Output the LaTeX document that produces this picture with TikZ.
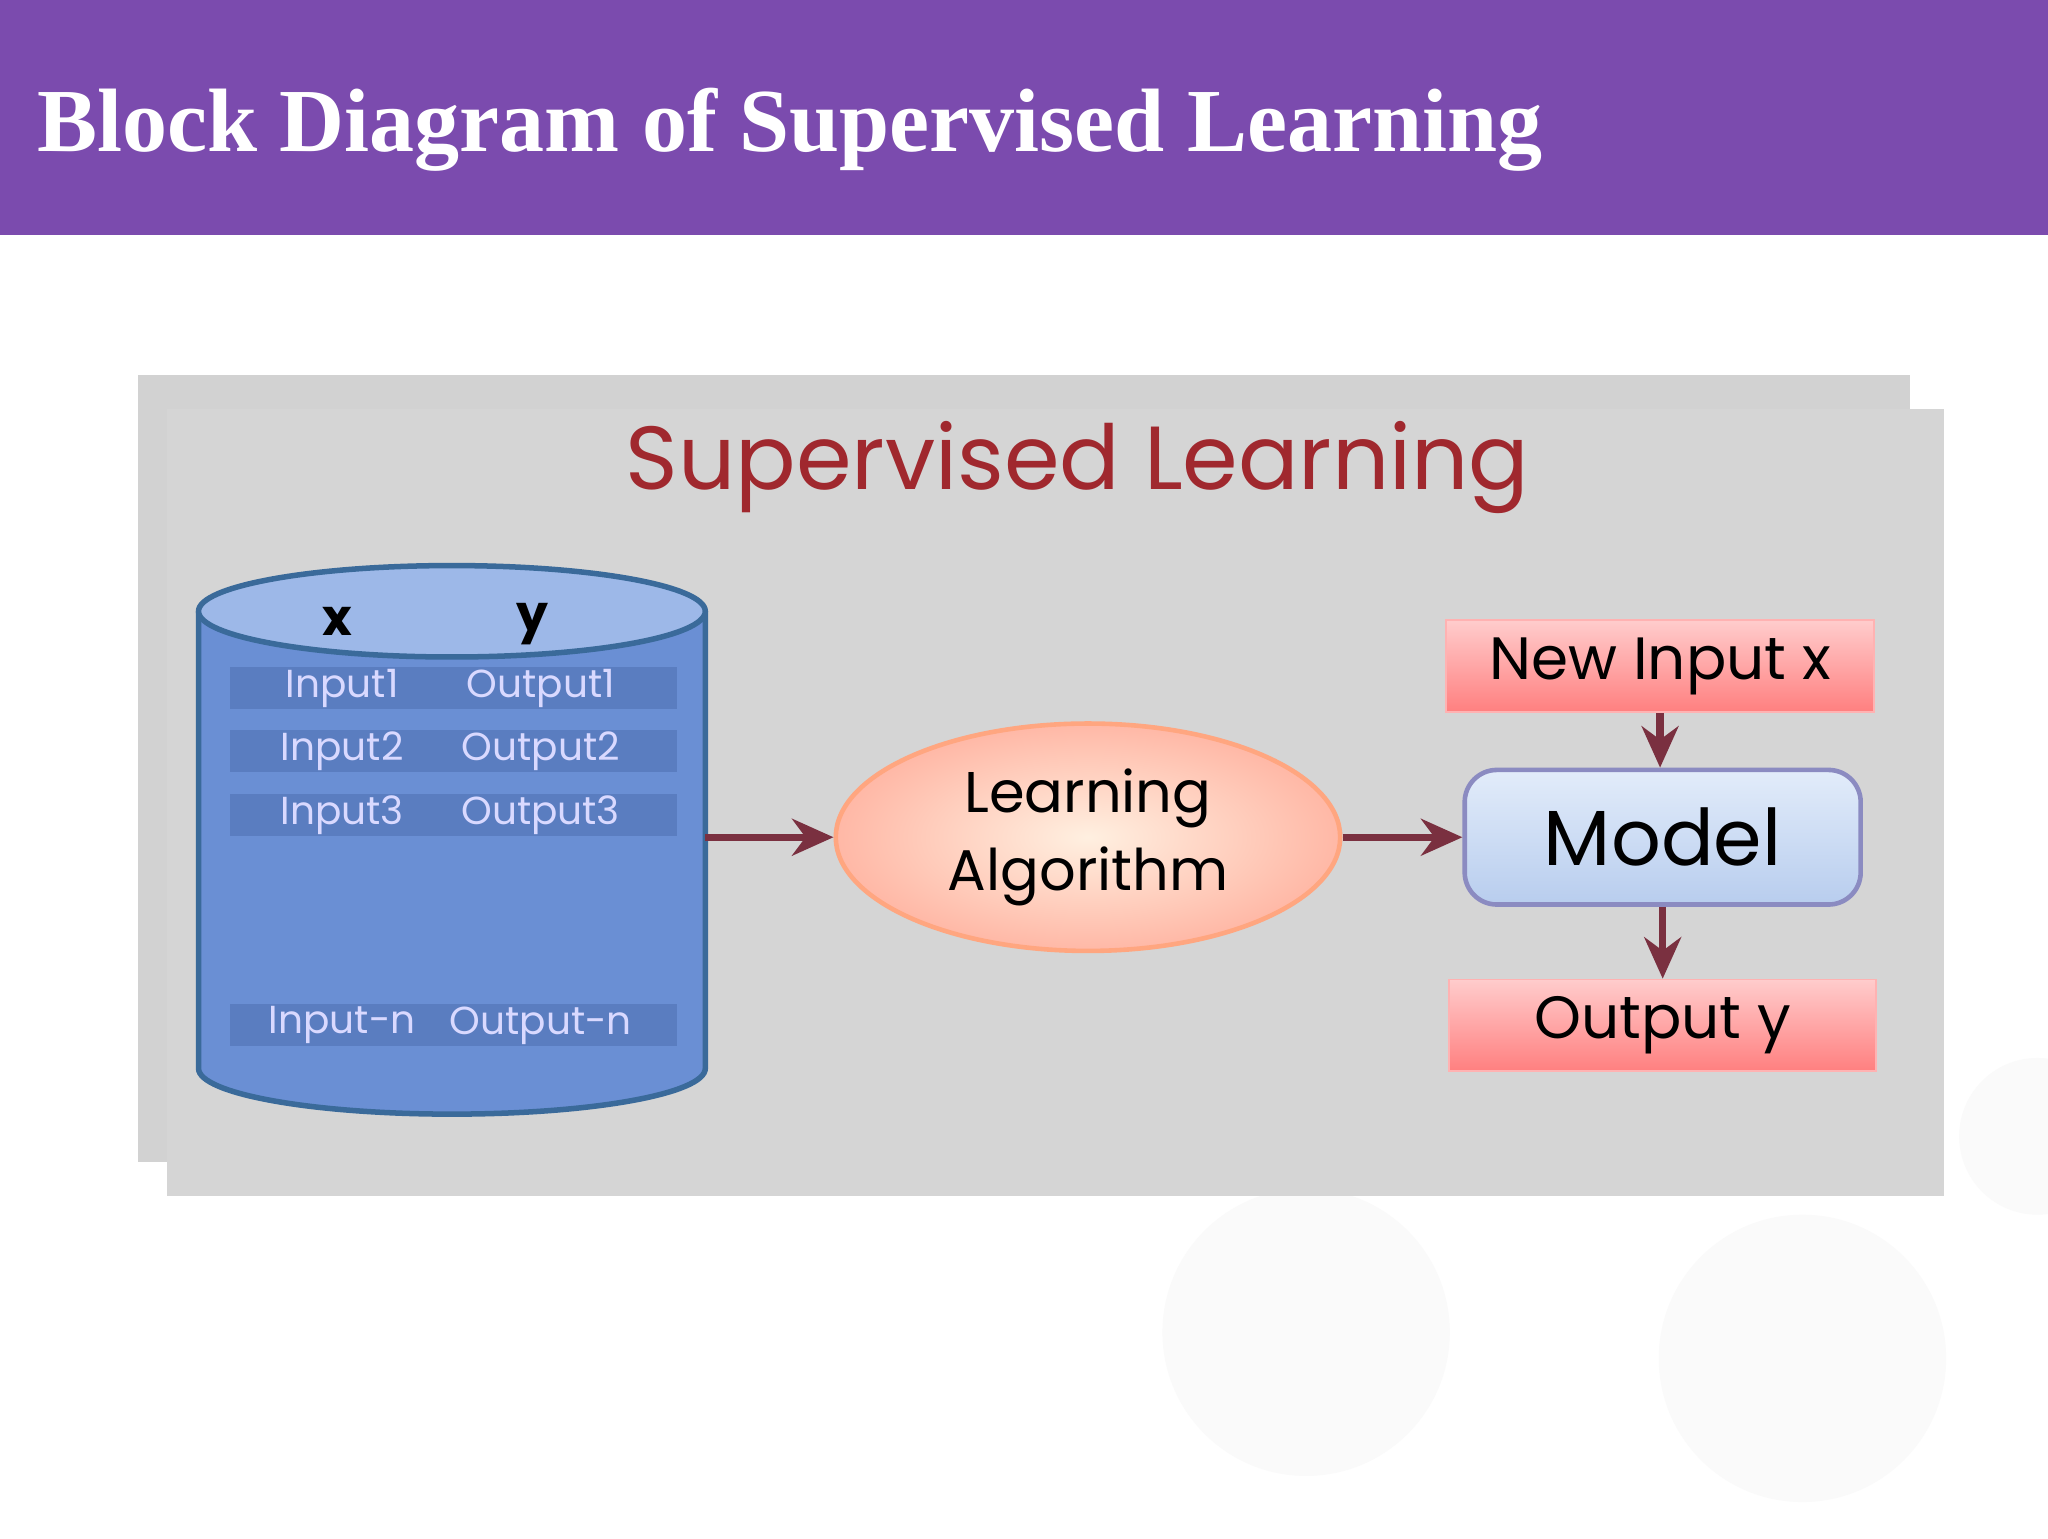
\documentclass[tikz,border=0pt]{standalone}
\usepackage{fontspec}
\setmainfont{Liberation Serif}
\newfontfamily\gf{Poppins}
\usetikzlibrary{shapes.geometric,arrows.meta}
\definecolor{purp}{HTML}{7B4BAE}
\definecolor{redt}{HTML}{A0282E}
\definecolor{arr}{HTML}{7A3040}
\definecolor{cylf}{HTML}{6A8FD4}
\definecolor{cylt}{HTML}{9DB8E8}
\definecolor{cylb}{HTML}{3A6A9A}
\definecolor{strip}{HTML}{5A7DC0}
\definecolor{mtop}{HTML}{E2ECFA}
\definecolor{mbot}{HTML}{B8CDEE}
\tikzset{
 conn/.style={draw=arr,line width=1.6pt,-{Stealth[length=9pt,width=8pt]}},
 row/.style={fill=strip,minimum width=3.42cm,minimum height=0.32cm,inner sep=0pt},
 rowt/.style={text=white!85!blue,font=\gf\fontsize{8.5}{9}\selectfont},
 pinkbox/.style={draw=red!30,top color=red!20,bottom color=red!50!white,minimum width=3.27cm,minimum height=0.70cm,inner sep=0pt,font=\gf\fontsize{13}{13}\selectfont},
}
\begin{document}
\begin{tikzpicture}[x=0.01cm,y=-0.01cm]
\useasboundingbox (0,0) rectangle (1568,1178);
\fill[white] (0,0) rectangle (1568,1178);
\fill[gray!4] (1000,1020) circle (110);
\fill[gray!4] (1380,1040) circle (110);
\fill[gray!4] (1560,870) circle (60);
\fill[purp] (0,0) rectangle (1568,180);
\node[anchor=west,text=white,font=\bfseries\fontsize{19.6}{20}\selectfont] (title) at (16,99) {Block Diagram of Supervised Learning};
\fill[gray!35] (106,287) rectangle (1462,890);
\fill[gray!33] (128,313) rectangle (1488,916);
\node[text=redt,font=\gf\fontsize{19.5}{20}\selectfont] (st) at (825,358) {Supervised Learning};
% cylinder
\filldraw[fill=cylf,draw=cylb,line width=1.2pt] (152,468) -- (152,818) arc[start angle=180,end angle=0,x radius=194,y radius=35] -- (540,468);
\filldraw[fill=cylt,draw=cylb,line width=1.2pt] (346,468) ellipse[x radius=194,y radius=35];
\node[font=\gf\bfseries\fontsize{11}{11}\selectfont] (xl) at (258,476) {x};
\node[font=\gf\bfseries\fontsize{11}{11}\selectfont] (yl) at (408,478) {y};
\foreach \yy/\a/\b [count=\i] in {527/Input1/Output1,575/Input2/Output2,624/Input3/Output3,785/Input-n/Output-n}{
 \node[row] (r\i) at (347,\yy) {};
 \node[rowt] (ra\i) at (262,\yy) {\a};
 \node[rowt] (rb\i) at (414,\yy) {\b};
}
\coordinate (cylr) at (540,641);
\node[ellipse,draw=orange!60!red!50,line width=1pt,inner sep=0pt,inner color=orange!12,outer color=orange!40!red!35,minimum width=3.86cm,minimum height=1.74cm,align=center,font=\gf\fontsize{12.5}{17}\selectfont] (la) at (833,641) {Learning\\Algorithm};
\node[draw=blue!30!gray!70,line width=1pt,rounded corners=7pt,inner sep=0pt,top color=mtop,bottom color=mbot,minimum width=3.03cm,minimum height=1.03cm,font=\gf\fontsize{17}{17}\selectfont] (model) at (1273,641) {Model};
\node[pinkbox] (ni) at (1271,510) {New Input x};
\node[pinkbox] (oy) at (1273,785) {Output y};
\draw[conn] (cylr) -- (la.west);
\draw[conn] (la.east) -- (model.west);
\draw[conn] (ni.south) -- (ni.south|-model.north);
\draw[conn] (model.south) -- (oy.north);
\end{tikzpicture}
\end{document}
